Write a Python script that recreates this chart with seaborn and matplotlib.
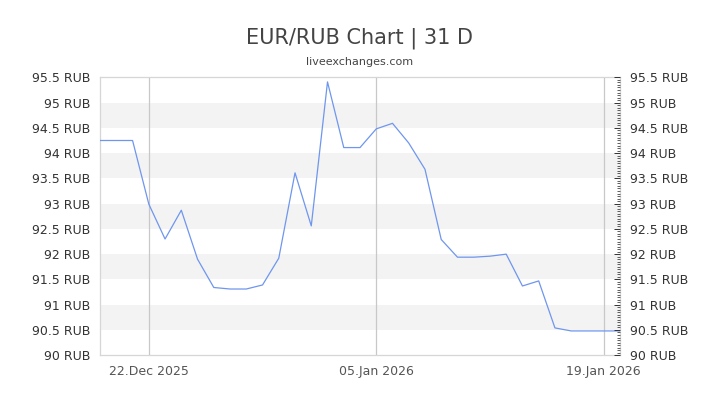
import matplotlib
matplotlib.use("Agg")
import matplotlib.pyplot as plt
from matplotlib.ticker import MultipleLocator, FuncFormatter
import numpy as np
import pandas as pd
import seaborn as sns

# ── data ──────────────────────────────────────────────────────────────────────
dates = pd.date_range("2025-12-19", "2026-01-20", freq="D")
rates = [
    94.25, 94.25, 94.25, 92.99, 92.30, 92.87, 91.90, 91.34, 91.31, 91.31,
    91.39, 91.92, 93.61, 92.56, 95.41, 94.11, 94.11, 94.48, 94.59, 94.20,
    93.68, 92.29, 91.94, 91.94, 91.96, 92.00, 91.37, 91.47, 90.54, 90.48,
    90.48, 90.48, 90.48,
]
x_ticks = pd.to_datetime(["2025-12-22", "2026-01-05", "2026-01-19"])
x_labels = ["22.Dec 2025", "05.Jan 2026", "19.Jan 2026"]
y_ticks = np.arange(90, 95.51, 0.5)

# ── style ─────────────────────────────────────────────────────────────────────
LINE = "#6f96ee"
BAND = "#f3f3f3"
GRID = "#c8c8c8"
EDGE = "#d6d6d6"
TXT = "#333333"

sns.set_style("white")
plt.rcParams["font.family"] = ["DejaVu Sans"]

df = pd.DataFrame({"date": dates, "rate": rates})

fig, ax = plt.subplots(figsize=(7.2, 4.05), dpi=100)
fig.subplots_adjust(left=0.139, right=0.861, top=0.809, bottom=0.123)

# alternating horizontal bands
for lo in y_ticks[1:-1:2]:
    ax.axhspan(lo, lo + 0.5, color=BAND, lw=0, zorder=0)

for xt in x_ticks:
    ax.axvline(xt, color=GRID, lw=0.9, zorder=1)

sns.lineplot(data=df, x="date", y="rate", ax=ax, color=LINE, lw=0.9, zorder=3)

ax.set_xlim(dates[0], dates[-1])
ax.set_ylim(90, 95.5)
ax.set_xticks(x_ticks)
ax.set_xticklabels(x_labels, fontsize=9, color="#555555")
ax.set_yticks(y_ticks)
fmt = FuncFormatter(lambda v, _: f"{v:g} RUB")
ax.yaxis.set_major_formatter(fmt)
ax.tick_params(axis="y", length=0, labelsize=9, labelcolor=TXT, pad=7)
ax.tick_params(axis="x", length=0, pad=7)
ax.set_xlabel("")
ax.set_ylabel("")
for sp in ax.spines.values():
    sp.set_color(EDGE)
    sp.set_linewidth(0.9)

# right-hand axis with fine minor ticks
ax2 = ax.twinx()
ax2.set_ylim(90, 95.5)
ax2.set_yticks(y_ticks)
ax2.yaxis.set_major_formatter(fmt)
ax2.yaxis.set_minor_locator(MultipleLocator(0.05))
ax2.tick_params(axis="y", which="major", direction="in", length=4, width=0.7,
                color="#333333", labelsize=9, labelcolor=TXT, pad=7)
ax2.tick_params(axis="y", which="minor", direction="in", length=2.5, width=0.6,
                color="#444444")
for sp in ax2.spines.values():
    sp.set_visible(False)

fig.text(0.5, 0.905, "EUR/RUB Chart | 31 D", ha="center", va="center",
         fontsize=15, color="#444444")
fig.text(0.5, 0.847, "liveexchanges.com", ha="center", va="center",
         fontsize=8, color="#444444")

fig.savefig("out.png", dpi=100)
plt.close(fig)
